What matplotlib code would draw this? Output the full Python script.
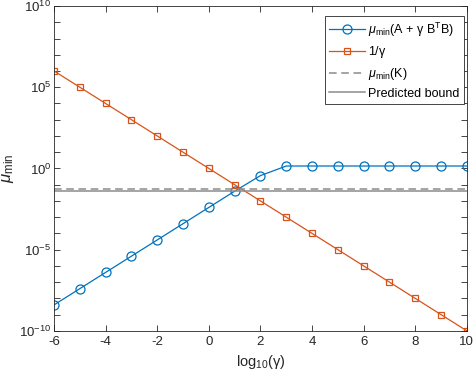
import matplotlib
matplotlib.use("Agg")
import matplotlib.pyplot as plt
import matplotlib.ticker as mticker
import numpy as np

plt.rcParams["font.family"] = ["Liberation Sans", "DejaVu Sans"]
plt.rcParams["mathtext.fontset"] = "custom"
plt.rcParams["mathtext.rm"] = "Liberation Sans"
plt.rcParams["mathtext.it"] = "Liberation Sans:italic"
plt.rcParams["mathtext.default"] = "rm"
plt.rcParams["axes.unicode_minus"] = False

# data
log_gamma = [-6, -5, -4, -3, -2, -1, 0, 1, 2, 3, 4, 5, 6, 7, 8, 9, 10]
mu_min_log = [-8.4, -7.4, -6.4, -5.4, -4.4, -3.4, -2.4, -1.4, -0.44, 0.15,
              0.15, 0.15, 0.15, 0.15, 0.15, 0.15, 0.15]
inv_gamma_log = [6, 5, 4, 3, 2, 1, 0, -1, -2, -3, -4, -5, -6, -7, -8, -9, -10]
mu_min_K = 0.058
predicted_bound = 0.043

blue = "#0072BD"
orange = "#D95319"

mu_min = 10.0 ** np.array(mu_min_log)
inv_gamma = 10.0 ** np.array(inv_gamma_log)

fig = plt.figure(figsize=(4.74, 3.76), dpi=100)
ax = fig.add_axes([0.114, 0.12, 0.871, 0.864])

ax.semilogy(log_gamma, mu_min, "-o", color=blue, lw=0.9, ms=6.5,
            mfc="none", mew=0.9, label=r"$\mathit{\mu}_{\rm min}$(A + $\gamma$ B$^{\rm T}$B)")
ax.semilogy(log_gamma, inv_gamma, "-s", color=orange, lw=0.9, ms=5,
            mfc="none", mew=0.9, label=r"1/$\gamma$")
ax.axhline(mu_min_K, color="#8c8c8c", ls=(0, (5, 3)), lw=1.1,
           label=r"$\mathit{\mu}_{\rm min}$(K)")
ax.axhline(predicted_bound, color="#8c8c8c", ls="-", lw=1.1,
           label="Predicted bound")

ax.set_xlim(-6, 10)
ax.set_ylim(1e-10, 1e10)
ax.set_xticks(range(-6, 11, 2))
ax.yaxis.set_major_locator(mticker.FixedLocator([1e-10, 1e-5, 1e0, 1e5, 1e10]))
ax.yaxis.set_major_formatter(mticker.LogFormatterSciNotation())
ax.yaxis.set_minor_locator(mticker.FixedLocator([10.0 ** k for k in range(-10, 11)]))
ax.yaxis.set_minor_formatter(mticker.NullFormatter())

ax.tick_params(which="both", direction="in", top=True, right=True,
               labelsize=9.5, colors="#262626")
ax.tick_params(which="major", length=4, width=0.6)
ax.tick_params(which="minor", length=4, width=0.6)
ax.tick_params(axis="y", pad=2)
for s in ax.spines.values():
    s.set_color("#262626")
    s.set_linewidth(0.6)

ax.set_xlabel(r"log$_{10}$($\gamma$)", fontsize=10.5, color="#262626")
ax.set_ylabel(r"$\mathit{\mu}_{\rm min}$", fontsize=12, color="#262626",
              labelpad=2)

leg = ax.legend(loc="upper right", bbox_to_anchor=(0.992, 0.969),
                fontsize=9, fancybox=False, framealpha=1,
                edgecolor="#262626", handlelength=2.9, handletextpad=0.2,
                borderaxespad=0, borderpad=0.35, labelspacing=0.45)
leg.get_frame().set_linewidth(0.6)

fig.savefig("out.png", dpi=100)
